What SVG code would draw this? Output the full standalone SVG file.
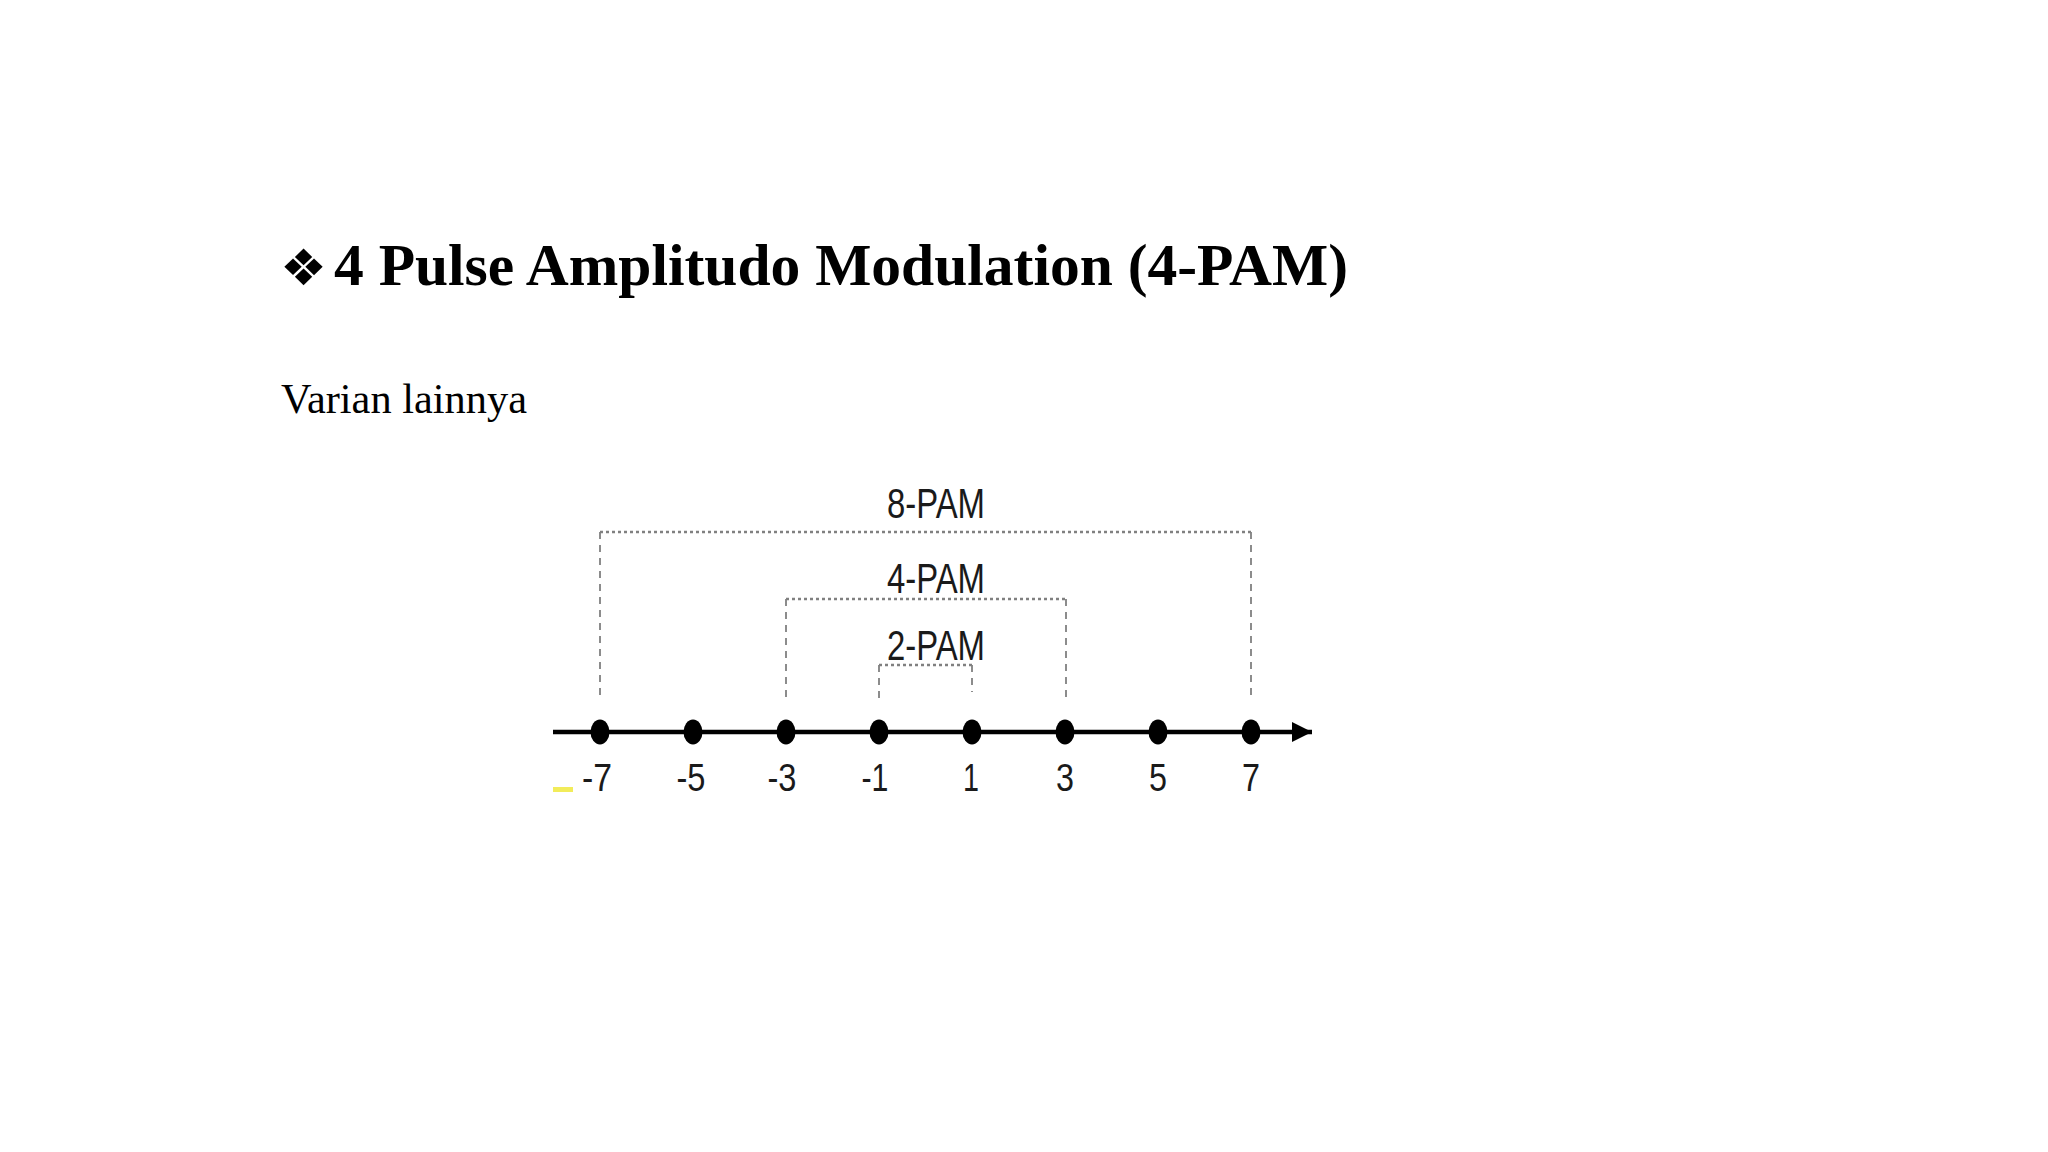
<svg xmlns="http://www.w3.org/2000/svg" width="2048" height="1152" viewBox="0 0 2048 1152">
  <style>
    .title { font-family: "Liberation Serif", "Times New Roman", serif; font-weight: bold; font-size: 60px; fill: #000; }
    .sub { font-family: "Liberation Serif", "Times New Roman", serif; font-size: 42px; fill: #000; }
    .lbl { font-family: "Liberation Sans", Arial, sans-serif; font-size: 43px; fill: #1a1a1a; text-anchor: middle; }
    .num { font-family: "Liberation Sans", Arial, sans-serif; font-size: 39px; fill: #1a1a1a; text-anchor: middle; }
    .hdot { stroke: #808080; stroke-width: 2.5; stroke-dasharray: 3 3; fill: none; }
    .vdash { stroke: #808080; stroke-width: 1.8; stroke-dasharray: 7 6; fill: none; }
    .pt { fill: #000; }
  </style>
  <defs>
    <marker id="arrow" viewBox="0 0 10 10" refX="10" refY="5" markerWidth="4.5" markerHeight="4.5" markerUnits="strokeWidth" orient="auto">
      <path d="M0,0 L10,5 L0,10 z" fill="#000"/>
    </marker>
  </defs>
  <rect width="2048" height="1152" fill="#fff"/>

  <g id="title">
    <text x="280" y="285" textLength="47" lengthAdjust="spacingAndGlyphs" style="font-family:'DejaVu Sans',sans-serif;font-size:50px;fill:#000">❖</text>
    <text class="title" x="334" y="285" textLength="1014" lengthAdjust="spacingAndGlyphs">4 Pulse Amplitudo Modulation (4-PAM)</text>
  </g>
  <g id="subtitle">
    <text class="sub" x="281" y="413" textLength="246" lengthAdjust="spacingAndGlyphs">Varian lainnya</text>
  </g>

  <g id="connectors">
    <!-- 8-PAM bracket -->
    <path class="hdot" d="M600,532 H1251"/>
    <path class="vdash" d="M600,532 V700 M1251,532 V700"/>
    <!-- 4-PAM bracket -->
    <path class="hdot" d="M786,599 H1066"/>
    <path class="vdash" d="M786,599 V702 M1066,599 V702"/>
    <!-- 2-PAM bracket -->
    <path class="hdot" d="M879,665 H972"/>
    <path class="vdash" d="M879,665 V698 M972,665 V692"/>
    <!-- axis -->
    <line x1="553" y1="732" x2="1312" y2="732" stroke="#000" stroke-width="4.5" marker-end="url(#arrow)"/>
  </g>

  <g id="labels">
    <text class="lbl" x="936" y="518" textLength="98" lengthAdjust="spacingAndGlyphs">8-PAM</text>
    <text class="lbl" x="936" y="593" textLength="98" lengthAdjust="spacingAndGlyphs">4-PAM</text>
    <text class="lbl" x="936" y="660" textLength="98" lengthAdjust="spacingAndGlyphs">2-PAM</text>
  </g>

  <g id="points">
    <ellipse class="pt" cx="600" cy="732" rx="9.5" ry="12.5"/>
    <ellipse class="pt" cx="693" cy="732" rx="9.5" ry="12.5"/>
    <ellipse class="pt" cx="786" cy="732" rx="9.5" ry="12.5"/>
    <ellipse class="pt" cx="879" cy="732" rx="9.5" ry="12.5"/>
    <ellipse class="pt" cx="972" cy="732" rx="9.5" ry="12.5"/>
    <ellipse class="pt" cx="1065" cy="732" rx="9.5" ry="12.5"/>
    <ellipse class="pt" cx="1158" cy="732" rx="9.5" ry="12.5"/>
    <ellipse class="pt" cx="1251" cy="732" rx="9.5" ry="12.5"/>
  </g>

  <g id="ticks">
    <text class="num" x="597" y="791" textLength="30" lengthAdjust="spacingAndGlyphs">-7</text>
    <text class="num" x="691" y="791" textLength="29" lengthAdjust="spacingAndGlyphs">-5</text>
    <text class="num" x="782" y="791" textLength="29" lengthAdjust="spacingAndGlyphs">-3</text>
    <text class="num" x="875" y="791" textLength="27" lengthAdjust="spacingAndGlyphs">-1</text>
    <text class="num" x="971" y="791" textLength="16" lengthAdjust="spacingAndGlyphs">1</text>
    <text class="num" x="1065" y="791" textLength="18" lengthAdjust="spacingAndGlyphs">3</text>
    <text class="num" x="1158" y="791" textLength="18" lengthAdjust="spacingAndGlyphs">5</text>
    <text class="num" x="1251" y="791" textLength="18" lengthAdjust="spacingAndGlyphs">7</text>
  </g>

  <rect x="553" y="787" width="20" height="5" fill="#f2ec5a"/>
</svg>
